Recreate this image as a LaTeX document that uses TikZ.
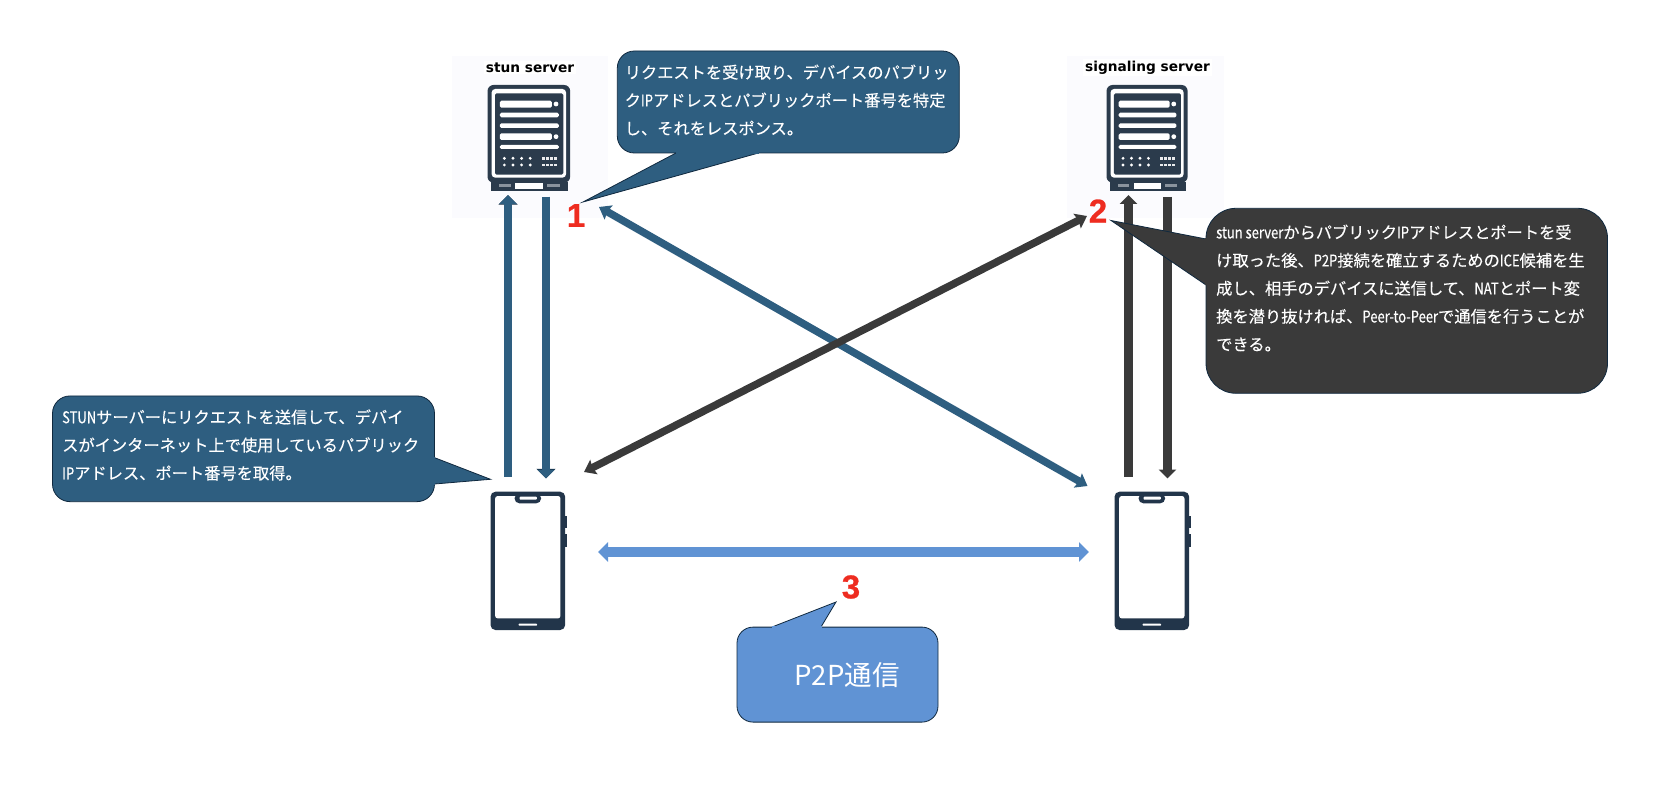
\documentclass[tikz,border=0pt]{standalone}
\usepackage{fontspec}
\usetikzlibrary{arrows.meta}
\setmainfont{Noto Sans CJK JP}
\newfontfamily\nlat[FakeStretch=0.8,FakeBold=0.4]{Noto Sans CJK JP}
\newfontfamily\cjkm[FakeBold=0.2]{Noto Sans CJK JP}
\newfontfamily\dvb{DejaVu Sans Bold}
\newfontfamily\numf[FakeBold=0.8]{Liberation Sans Bold}
\newcommand{\nl}[1]{{\nlat #1}}
\definecolor{cblue}{HTML}{2E5E80}
\definecolor{cdark}{HTML}{3A3A3A}
\definecolor{clight}{HTML}{6093D4}
\definecolor{cline}{HTML}{10293F}
\definecolor{cred}{HTML}{EE2C20}
\definecolor{cicon}{HTML}{2B3B4C}
\definecolor{cphone}{HTML}{22354A}
\definecolor{cpanel}{HTML}{FBFBFE}
\tikzset{
 callbox/.style={draw=cline,line width=0.8pt,inner sep=0,outer sep=0,fill=#1},
 calltail/.style={draw=cline,line width=0.8pt,fill=#1,line join=miter},
 calltext/.style={text=white,align=left,inner sep=0,anchor=west,font=\fontsize{16.25}{28}\cjkm},
 vbl/.style={line width=7.5pt,draw=cblue,-{Triangle[length=9pt,width=17pt,fill=cblue]},
   preaction={draw=cline,line width=8.8pt,-{Triangle[length=9.6pt,width=18.6pt,fill=cline]}}},
 vdk/.style={line width=8.5pt,draw=cdark,-{Triangle[length=9pt,width=17pt,fill=cdark]}},
 diag/.style={line width=7.5pt,draw=#1,{Stealth[length=11pt,width=16pt,inset=1.5pt,fill=#1]}-{Stealth[length=11pt,width=16pt,inset=1.5pt,fill=#1]}},
 hp2p/.style={line width=9.5pt,draw=clight,{Triangle[length=10pt,width=19pt,fill=clight]}-{Triangle[length=10pt,width=19pt,fill=clight]}},
 numlab/.style={text=cred,inner sep=0,font=\fontsize{33}{33}\numf},
 srvlab/.style={fill=white,inner xsep=2pt,inner ysep=2pt,text=black,font=\fontsize{13.7}{14}\dvb},
 panel/.style={fill=cpanel,draw=none},
}
\newcommand{\servericon}[3]{%
 \begin{scope}[shift={(#1,#2)}]
 \begin{scope}[x=#3pt,y=-0.3333pt,shift={(-138,-135)}]
  \fill[cicon] (147,425) rectangle (372,453);
  \fill[cicon,rounded corners=6pt] (138,135) rectangle (378,428);
  \fill[white,rounded corners=3.5pt] (150,147) rectangle (366,413);
  \fill[cicon,rounded corners=1.5pt] (160,160) rectangle (358,404);
  \foreach \ya/\yb/\xe in {182/203/325,218/232/345,250/264/345,280/300/325,315/327/345}
    \fill[white,rounded corners=1.5pt] (174,\ya) rectangle (\xe,\yb);
  \foreach \yc in {192,290} \fill[white] (337,\yc) circle (2.4pt);
  \foreach \xc in {187,212,237,262} \foreach \yc in {355,375} \fill[white] (\xc,\yc) circle (1.6pt);
  \foreach \xc in {295,307,319,331} \foreach \yc in {355,375} \fill[white!90!cicon] (\xc,\yc-4) rectangle (\xc+9,\yc+4);
  \fill[white!45!cicon] (172,433) rectangle (205,442);
  \fill[white!45!cicon] (312,433) rectangle (348,442);
  \fill[white] (218,430) rectangle (300,446);
 \end{scope}
 \end{scope}}
\newcommand{\phoneicon}[2]{%
 \begin{scope}[shift={(#1,#2)}]
 \begin{scope}[x=0.3333pt,y=-0.3333pt,shift={(-1243,-35)}]
  \fill[cphone] (1467,108) rectangle (1472,145);
  \fill[cphone] (1467,163) rectangle (1472,200);
  \fill[cphone,rounded corners=5pt] (1243,35) rectangle (1467,450);
  \fill[white,rounded corners=2.5pt] (1257,48) rectangle (1453,415);
  \fill[cphone,rounded corners=5pt] (1315,40) rectangle (1395,70);
  \fill[white,rounded corners=0.8pt] (1330,50) rectangle (1382,59);
  \fill[white,rounded corners=0.8pt] (1327,431) rectangle (1383,437);
 \end{scope}
 \end{scope}}
\begin{document}
\begin{tikzpicture}[x=1pt,y=-1pt]
\useasboundingbox (0,0) rectangle (1660,799);
% server panels
\fill[panel] (452,56) rectangle (608,218);
\fill[panel] (1067,56) rectangle (1224,218);
\node[srvlab] (lab1) at (530,67.5) {stun server};
\node[srvlab] (lab2) at (1147.5,67.5) {signaling server};
\servericon{487.5}{85}{0.3444}
\servericon{1106.5}{85}{0.3380}
\phoneicon{490.5}{491.7}
\phoneicon{1114.5}{491.7}
% connector ends
\coordinate (s1u) at (508,195);  \coordinate (p1u) at (508,476.5);
\coordinate (s1d) at (546,197);  \coordinate (p1d) at (546,478.5);
\coordinate (s2u) at (1128.5,195); \coordinate (p2u) at (1128.5,476.5);
\coordinate (s2d) at (1167.5,197); \coordinate (p2d) at (1167.5,478.5);
\coordinate (xa) at (599,207);  \coordinate (xb) at (1087.5,486);
\coordinate (ya) at (1087,216); \coordinate (yb) at (584,472);
\coordinate (ha) at (598,552);  \coordinate (hb) at (1089,552);
% connectors
\draw[vbl] (p1u) -- (s1u);
\draw[vbl] (s1d) -- (p1d);
\draw[vdk] (p2u) -- (s2u);
\draw[vdk] (s2d) -- (p2d);
\draw[diag=cblue] (xa) -- (xb);
\draw[diag=cdark] (ya) -- (yb);
\draw[hp2p] (ha) -- (hb);
% callout 1
\node[callbox=cblue,minimum width=342pt,minimum height=102pt,rounded corners=17pt] (c1) at (788.3,102) {};
\filldraw[calltail=cblue] (676,153) -- (583,202) -- (758.5,153);
\draw[cblue,line width=1.4pt] (675.5,153) -- (759,153);
\node[calltext] (t1) at (624.5,100) {リクエストを受け取り、デバイスのパブリッ\\ク\nl{IP}アドレスとパブリックポート番号を特定\\し、それをレスポンス。};
% callout 2
\node[callbox=cdark,minimum width=401.5pt,minimum height=185pt,rounded corners=30pt] (c2) at (1406.75,300.8) {};
\filldraw[calltail=cdark] (1206,239) -- (1111,220.5) -- (1206,285);
\draw[cdark,line width=1.4pt] (1206,238.5) -- (1206,285.5);
\node[calltext] (t2) at (1216,288) {\nl{stun server}からパブリック\nl{IP}アドレスとポートを受\\け取った後、\nl{P2P}接続を確立するための\nl{ICE}候補を生\\成し、相手のデバイスに送信して、\nl{NAT}とポート変\\換を潜り抜ければ、\nl{Peer-to-Peer}で通信を行うことが\\できる。};
% callout 3
\node[callbox=cblue,minimum width=382pt,minimum height=105.7pt,rounded corners=17.5pt] (c3) at (243.5,448.8) {};
\filldraw[calltail=cblue] (434.6,457.7) -- (490.5,479.3) -- (434.6,484);
\draw[cblue,line width=1.4pt] (434.6,457.2) -- (434.6,484.5);
\node[calltext] (t3) at (62,445) {\nl{STUN}サーバーにリクエストを送信して、デバイ\\スがインターネット上で使用しているパブリック\\\nl{IP}アドレス、ポート番号を取得。};
% callout 4
\node[callbox=clight,minimum width=201pt,minimum height=95pt,rounded corners=16pt] (c4) at (837.5,674.6) {};
\filldraw[calltail=clight] (772,627) -- (836,602) -- (821,627);
\draw[clight,line width=1.4pt] (771.5,627) -- (821.5,627);
\node[text=white,inner sep=0,font=\fontsize{27.5}{30}\selectfont] (t4) at (847,675) {P2P通信};
% numbers
\node[numlab] (n1) at (576,215.5) {1};
\node[numlab] (n2) at (1098,211) {2};
\node[numlab] (n3) at (851,587) {3};
\end{tikzpicture}
\end{document}
